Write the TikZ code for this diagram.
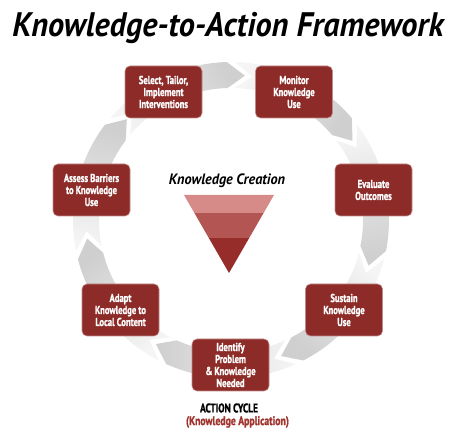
\documentclass[tikz,border=0pt]{standalone}
\usepackage{fontspec}
\setmainfont{PT Sans}
\newfontfamily\boxfont[FakeStretch=0.75, FakeBold=1.2]{PT Sans Bold}
\newfontfamily\notefont[FakeStretch=0.78, FakeBold=1.2]{PT Sans Bold}
\newfontfamily\titlefont[FakeStretch=0.95]{PT Sans Bold Italic}
\definecolor{boxred}{HTML}{8C2B28}
\definecolor{darkred}{HTML}{A0332E}
\definecolor{triA}{HTML}{D68B89}
\definecolor{triB}{HTML}{B35653}
\definecolor{triC}{HTML}{962D2A}
\tikzset{
  stagebox/.style={rectangle, rounded corners=5pt, fill=boxred, draw=boxred!55!white, line width=0.6pt,
    minimum width=77pt, minimum height=52pt, inner sep=1pt, align=center, text=white,
    font=\boxfont\fontsize{11.5}{12}\selectfont},
  ringpart/.style={shade, shading=axis, top color=gray!8, bottom color=gray!38}
}
\begin{document}
\begin{tikzpicture}[x=1pt, y=1pt]
  \useasboundingbox (0,0) rectangle (474,431);

  % 1. Titel
  \node[anchor=base, font=\titlefont\fontsize{34}{36}\selectfont] (title) at (228,394) {Knowledge-to-Action Framework};

  % 2. Ring aus Pfeilsegmenten (im Uhrzeigersinn)
  \begin{scope}[shift={(231,211)}]
    \foreach \a in {-90,-141.43,-192.86,-244.29,-295.71,-347.14,-398.57}{
      \pgfmathsetmacro{\t}{\a+25.71-1.5}
      \pgfmathsetmacro{\h}{\a-25.71+1.5}
      \path[ringpart, shading angle=\a]
        (\t:158) arc[start angle=\t, end angle=\h, radius=158]
        -- (\h-7:145) -- (\h:132)
        arc[start angle=\h, end angle=\t, radius=132]
        -- (\t-7:145) -- cycle;
    }
  \end{scope}

  % 3. Stufen des Aktionszyklus
  \node[stagebox] (identify) at (230.5,66) {Identify\\Problem\\\&\,Knowledge\\Needed};
  \node[stagebox] (adapt)    at (120.5,121) {Adapt\\Knowledge to\\Local Content};
  \node[stagebox] (assess)   at (91.5,241) {Assess Barriers\\to Knowledge\\Use};
  \node[stagebox] (select)   at (163.5,339) {Select, Tailor,\\Implement\\Interventions};
  \node[stagebox] (monitor)  at (294,339) {Monitor\\Knowledge\\Use};
  \node[stagebox] (evaluate) at (373.5,241) {Evaluate\\Outcomes};
  \node[stagebox] (sustain)  at (344,121) {Sustain\\Knowledge\\Use};

  % 4. Wissenstrichter in der Mitte
  \node[font=\titlefont\fontsize{15}{17}\selectfont] (creation) at (227,250) {Knowledge Creation};
  \begin{scope}
    \clip (184,236) -- (274,236) -- (229,158) -- cycle;
    \fill[triA] (180,218) rectangle (280,240);
    \fill[triB] (180,193) rectangle (280,218);
    \fill[triC] (180,150) rectangle (280,193);
  \end{scope}

  % 5. Beschriftung unten
  \node[font=\boxfont\fontsize{12.5}{14}\selectfont] (cycle) at (229,23) {ACTION CYCLE};
  \node[font=\notefont\fontsize{12.5}{14}\selectfont, text=darkred] (application) at (237.5,9) {(Knowledge Application)};
\end{tikzpicture}
\end{document}
